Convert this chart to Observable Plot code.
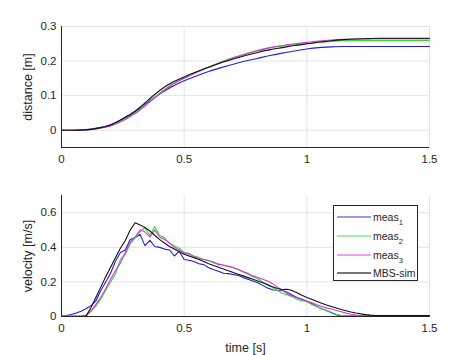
<!DOCTYPE html>
<html><head><meta charset="utf-8">
<script src="https://cdn.jsdelivr.net/npm/d3@7"></script>
<script src="https://cdn.jsdelivr.net/npm/@observablehq/plot@0.6"></script>
<style>
body{margin:0;background:#fff;}
#wrap{position:relative;width:474px;height:355px;font-family:"Liberation Sans",Arial,sans-serif;}
#wrap svg{display:block;}
#legend{position:absolute;left:0;top:0;pointer-events:none;}
#wrap g[aria-label="y-axis label"], #wrap g[aria-label="x-axis label"]{font-size:12.5px !important;}
#wrap g[aria-label="y-axis tick label"], #wrap g[aria-label="x-axis tick label"]{font-size:11.5px !important;}
</style></head><body>
<div id="wrap"></div>
<script>
// ---- data ----
const seriesNames = ["meas1","meas2","meas3","MBS-sim"];
const seriesColors = ["#1f1fd6","#2ee02e","#e02ee0","#111111"];
const xTicks = [0, 0.5, 1, 1.5];
const distTicks = [0, 0.1, 0.2, 0.3];
const velTicks = [0, 0.2, 0.4, 0.6];

// distance curves (s)
const tDist = [0,0.05,0.1,0.15,0.2,0.25,0.3,0.35,0.4,0.45,0.5,0.55,0.6,0.65,0.7,0.75,0.8,0.85,0.9,0.95,1.0,1.05,1.1,1.15,1.2,1.25,1.3,1.35,1.4,1.45,1.5];
const dist1 = [0,0,0.002,0.007,0.016,0.033,0.054,0.08,0.105,0.126,0.143,0.157,0.17,0.181,0.191,0.2,0.208,0.216,0.223,0.229,0.235,0.239,0.241,0.242,0.242,0.242,0.242,0.242,0.242,0.242,0.242];
const dist2 = [0,0,0.001,0.005,0.013,0.029,0.05,0.078,0.107,0.133,0.151,0.168,0.183,0.197,0.21,0.221,0.231,0.239,0.243,0.247,0.25,0.254,0.257,0.259,0.26,0.26,0.26,0.26,0.26,0.26,0.26];
const dist3 = [0,0,0.001,0.005,0.012,0.027,0.048,0.076,0.105,0.131,0.15,0.167,0.182,0.196,0.209,0.22,0.23,0.239,0.245,0.25,0.254,0.258,0.261,0.263,0.264,0.265,0.265,0.265,0.265,0.265,0.265];
const distSim = [0,0,0.001,0.006,0.015,0.033,0.055,0.085,0.115,0.138,0.154,0.169,0.182,0.195,0.206,0.216,0.225,0.233,0.239,0.245,0.25,0.255,0.259,0.262,0.264,0.265,0.266,0.266,0.266,0.266,0.266];

// velocity curves (m/s)
const tVel = [0,0.02,0.04,0.06,0.08,0.1,0.12,0.14,0.16,0.18,0.2,0.22,0.24,0.26,0.28,0.3,0.32,0.34,0.36,0.38,0.4,0.42,0.44,0.46,0.48,0.5,0.52,0.54,0.56,0.58,0.6,0.62,0.64,0.66,0.68,0.7,0.72,0.74,0.76,0.78,0.8,0.82,0.84,0.86,0.88,0.9,0.92,0.94,0.96,0.98,1.0,1.02,1.04,1.06,1.08,1.1,1.12,1.14,1.16,1.18,1.2,1.22,1.24,1.26,1.28,1.3,1.32,1.34,1.36,1.38,1.4,1.42,1.44,1.46,1.48,1.5];
const vel1 = [0.003,0.005,0.012,0.02,0.03,0.045,0.062,0.09,0.15,0.2,0.25,0.32,0.37,0.385,0.445,0.455,0.475,0.41,0.44,0.405,0.4,0.39,0.385,0.35,0.378,0.33,0.325,0.318,0.305,0.3,0.282,0.27,0.262,0.25,0.248,0.243,0.238,0.225,0.215,0.205,0.195,0.18,0.165,0.155,0.152,0.15,0.14,0.125,0.11,0.1,0.088,0.075,0.06,0.045,0.035,0.022,0.01,0.003,0.003,0.003,0.003,0.003,0.003,0.003,0.003,0.003,0.003,0.003,0.003,0.003,0.003,0.003,0.003,0.003,0.003,0.003];
const vel2 = [0.002,0.002,0.002,0.002,0.002,0.005,0.03,0.06,0.1,0.15,0.2,0.245,0.33,0.36,0.42,0.455,0.49,0.515,0.47,0.52,0.47,0.455,0.425,0.41,0.395,0.37,0.365,0.35,0.342,0.33,0.325,0.31,0.305,0.295,0.29,0.282,0.27,0.258,0.245,0.23,0.218,0.2,0.185,0.168,0.15,0.135,0.125,0.115,0.1,0.092,0.085,0.07,0.058,0.045,0.035,0.025,0.013,0.006,0.004,0.004,0.004,0.004,0.004,0.004,0.004,0.004,0.004,0.004,0.004,0.004,0.004,0.004,0.004,0.004,0.004,0.004];
const vel3 = [0.002,0.002,0.002,0.002,0.002,0.006,0.03,0.07,0.11,0.16,0.215,0.265,0.31,0.37,0.43,0.46,0.5,0.49,0.46,0.5,0.46,0.445,0.425,0.4,0.385,0.368,0.36,0.345,0.335,0.33,0.322,0.315,0.3,0.298,0.29,0.284,0.272,0.26,0.25,0.235,0.226,0.215,0.205,0.19,0.17,0.15,0.135,0.118,0.108,0.098,0.09,0.08,0.068,0.058,0.05,0.043,0.035,0.028,0.02,0.013,0.008,0.004,0.004,0.004,0.004,0.004,0.004,0.004,0.004,0.004,0.004,0.004,0.004,0.004,0.004,0.004];
const velSim = [0,0,0,0,0,0.002,0.05,0.11,0.17,0.23,0.285,0.34,0.395,0.44,0.5,0.542,0.53,0.515,0.495,0.47,0.445,0.425,0.405,0.39,0.375,0.36,0.35,0.34,0.33,0.318,0.305,0.295,0.285,0.275,0.265,0.255,0.245,0.235,0.225,0.215,0.205,0.195,0.183,0.172,0.162,0.156,0.158,0.15,0.137,0.123,0.11,0.1,0.088,0.077,0.067,0.058,0.049,0.04,0.033,0.026,0.02,0.015,0.011,0.008,0.006,0.005,0.005,0.005,0.005,0.005,0.005,0.005,0.005,0.005,0.005,0.005];

// ---- build tables ----
function table(ts, arrs){
  const out = [];
  arrs.forEach((a,k)=>a.forEach((v,i)=>out.push({t:ts[i], v, s:seriesNames[k]})));
  return out;
}
const distData = table(tDist, [dist1,dist2,dist3,distSim]);
const velData = table(tVel, [vel1,vel2,vel3,velSim]);

const fmt = d => String(d);
const font = {fontFamily:"'Liberation Sans',Arial,sans-serif", fontSize:"11.5px", color:"#262626", background:"#fff"};
const colorScale = {domain: seriesNames, range: seriesColors};
const gridCol = "#e3e3e3";

const topPlot = Plot.plot({
  width:474, height:175, marginTop:26, marginBottom:28, marginLeft:61, marginRight:45,
  style: font,
  color: colorScale,
  x:{domain:[0,1.5], ticks:xTicks, tickFormat:fmt, tickSize:0, tickPadding:7, label:null},
  y:{domain:[-0.05,0.3], ticks:distTicks, tickFormat:fmt, tickSize:0, tickPadding:5, label:"distance [m]", labelAnchor:"center", labelArrow:"none", labelOffset:38},
  marks:[
    Plot.gridX(xTicks.slice(1), {stroke:gridCol, strokeOpacity:1}),
    Plot.gridY(distTicks, {stroke:gridCol, strokeOpacity:1}),
    Plot.line(distData, {x:"t", y:"v", z:"s", stroke:"s", strokeWidth:1.1, curve:"monotone-x"}),
    Plot.ruleX([0], {stroke:"#262626"}),
    Plot.ruleY([-0.05], {stroke:"#262626"})
  ]
});

const botPlot = Plot.plot({
  width:474, height:180, marginTop:20, marginBottom:39, marginLeft:61, marginRight:45,
  style: font,
  color: colorScale,
  x:{domain:[0,1.5], ticks:xTicks, tickFormat:fmt, tickSize:0, tickPadding:7, label:"time [s]", labelAnchor:"center", labelArrow:"none", labelOffset:35},
  y:{domain:[0,0.7], ticks:velTicks, tickFormat:fmt, tickSize:0, tickPadding:5, label:"velocity [m/s]", labelAnchor:"center", labelArrow:"none", labelOffset:38},
  marks:[
    Plot.gridX(xTicks.slice(1), {stroke:gridCol, strokeOpacity:1}),
    Plot.gridY(velTicks.slice(1), {stroke:gridCol, strokeOpacity:1}),
    Plot.line(velData, {x:"t", y:"v", z:"s", stroke:"s", strokeWidth:1.1}),
    Plot.ruleX([0], {stroke:"#262626"}),
    Plot.ruleY([0], {stroke:"#262626"})
  ]
});

const wrap = document.getElementById("wrap");
wrap.appendChild(topPlot);
wrap.appendChild(botPlot);

// legend overlay
const lg = d3.select(wrap).append("svg").attr("id","legend").attr("width",474).attr("height",355);
lg.append("rect").attr("x",333.5).attr("y",205.5).attr("width",84).attr("height",75)
  .attr("fill","#fff").attr("stroke","#262626").attr("stroke-width",1);
const rowsY = [217, 236, 255, 273];
seriesNames.forEach((name,i)=>{
  const y = rowsY[i];
  lg.append("line").attr("x1",337).attr("x2",371).attr("y1",y).attr("y2",y)
    .attr("stroke",seriesColors[i]).attr("stroke-width",1.3).attr("opacity",i<3?0.6:0.75);
  const tx = lg.append("text").attr("x",373).attr("y",y+3.5)
    .attr("font-family","'Liberation Sans',Arial,sans-serif").attr("font-size","10.5px").attr("fill","#262626");
  if (i<3) {
    tx.append("tspan").text("meas");
    tx.append("tspan").attr("dy",4).attr("font-size","7.5px").text(String(i+1));
  } else {
    tx.text("MBS-sim");
  }
});
</script>
</body></html>
